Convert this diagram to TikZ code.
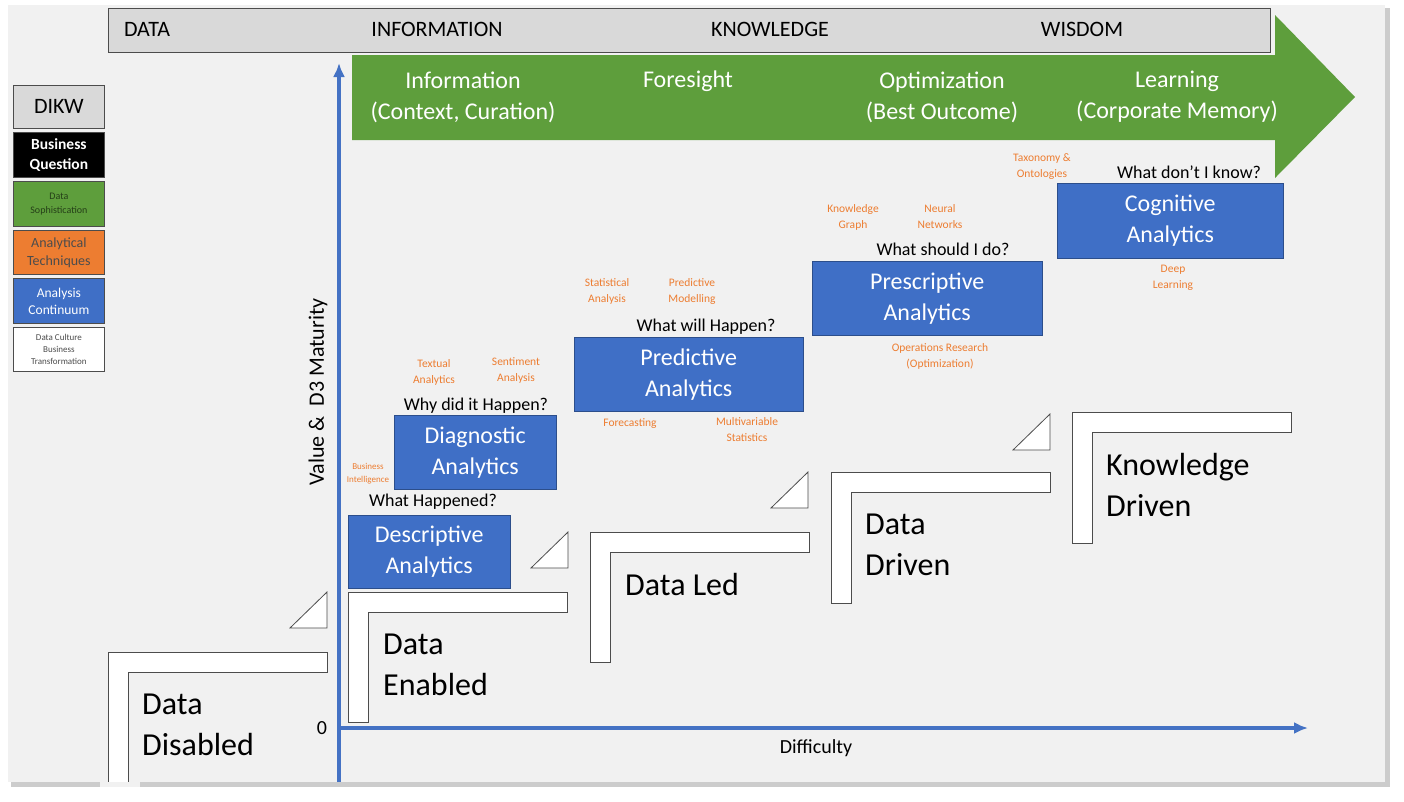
\documentclass[tikz,border=0pt]{standalone}
\usepackage{fontspec}
\setmainfont{Carlito}
\usetikzlibrary{arrows.meta}
\definecolor{bg}{HTML}{F1F1F1}
\definecolor{gbar}{HTML}{D9D9D9}
\definecolor{grn}{HTML}{5E9E3C}
\definecolor{blu}{HTML}{3F6FC6}
\definecolor{org}{HTML}{ED7D31}
\definecolor{ax}{HTML}{4472C4}
\tikzset{
 fs/.style 2 args={font=\fontsize{#1}{#2}\selectfont},
 bbox/.style={draw=blu!70!black,fill=blu,text=white,align=center,fs={24}{31},inner sep=0},
 orl/.style={text=org,align=center,fs={11.5}{16},inner sep=0},
 q/.style={fs={18}{18},inner sep=0},
 big/.style={fs={32}{41},align=left,inner sep=0,anchor=west},
 ell/.style={draw=black!70,fill=white,line width=0.8},
 leg/.style={draw=black!70,line width=0.8,align=center,inner sep=0},
}
\begin{document}
\begin{tikzpicture}[x=1pt,y=-1pt]
\useasboundingbox (0,0) rectangle (1404,801);
\fill[white] (0,0) rectangle (1404,801);
\fill[black!20] (11,8) rectangle (1390,787);
\fill[bg] (8,5) rectangle (1385,782);
% top bar
\node[draw=black!70,fill=gbar,minimum width=1162,minimum height=44,anchor=north west,inner sep=0] (topbar) at (108,8) {};
\foreach \t/\x in {DATA/147,INFORMATION/437,KNOWLEDGE/770,WISDOM/1082}
  \node[fs={22}{22}] at (\x,29) {\t};
% green arrow
\fill[grn] (352,55) -- (1275,55) -- (1275,15) -- (1355,97) -- (1275,178) -- (1275,140) -- (352,140) -- cycle;
\node[text=white,fs={24}{31},align=center] (g1) at (463,97) {Information\\(Context, Curation)};
\node[text=white,fs={24}{31}] (g2) at (688,81) {Foresight};
\node[text=white,fs={24}{31},align=center] (g3) at (942,97) {Optimization\\(Best Outcome)};
\node[text=white,fs={24}{31},align=center] (g4) at (1177,97) {Learning\\(Corporate Memory)};
% legend
\node[leg,fill=gbar,minimum width=91,minimum height=43,anchor=north west,fs={22}{22}] (l1) at (13,85) {DIKW};
\node[leg,fill=black,text=white,minimum width=91,minimum height=45,anchor=north west,fs={15.5}{20}] (l2) at (13,132) {\textbf{Business}\\\textbf{Question}};
\node[leg,fill=grn,text=black!60!grn,minimum width=91,minimum height=45,anchor=north west,fs={10}{14}] (l3) at (13,181) {Data\\Sophistication};
\node[leg,fill=org,text=black!70,minimum width=91,minimum height=44,anchor=north west,fs={14}{18}] (l4) at (13,230) {Analytical\\Techniques};
\node[leg,fill=blu,text=white,minimum width=91,minimum height=45,anchor=north west,fs={13.5}{17}] (l5) at (13,278) {Analysis\\Continuum};
\node[leg,fill=white,text=black!70,minimum width=91,minimum height=44,anchor=north west,fs={9}{12}] (l6) at (13,327) {Data Culture\\Business\\Transformation};
% L shapes
\foreach \x/\y/\b in {108/652/782,348/592/722,590/532/662,831/472/603,1072/412/543}
  \draw[ell] (\x,\y) -- ++(219,0) -- ++(0,20) -- ++(-199,0) -- (\x+20,\b) -- (\x,\b) -- cycle;
\fill[bg] (100,782) rectangle (140,801);
\fill[white] (100,787) rectangle (140,801);
% triangles
\foreach \x/\y in {327/628,568/568,808/508,1050/450}
  \draw[ell] (\x-37,\y) -- (\x,\y) -- (\x,\y-36) -- cycle;
% big labels
\node[big] (d0) at (142,725) {Data\\Disabled};
\node[big] (d1) at (383,665) {Data\\Enabled};
\node[big] (d2) at (625,584) {Data Led};
\node[big] (d3) at (865,545) {Data\\Driven};
\node[big] (d4) at (1106,485) {Knowledge\\Driven};
% axes
\draw[ax,line width=3.5,-{Latex[length=14,width=12]}] (339,782) -- (339,63);
\draw[ax,line width=3.5,-{Latex[length=14,width=12]}] (339,728) -- (1308,728);
\node[fs={20}{20}] (zero) at (322,728) {0};
\node[fs={22}{22},rotate=90] (yl) at (318,392) {Value \&\ \ D3 Maturity};
\node[fs={20}{20}] (xl) at (816,748) {Difficulty};
% blue boxes
\node[bbox,minimum width=162,minimum height=73,anchor=north west] (b1) at (348,515) {Descriptive\\Analytics};
\node[bbox,minimum width=162,minimum height=74,anchor=north west] (b2) at (394,415) {Diagnostic\\Analytics};
\node[bbox,minimum width=229,minimum height=74,anchor=north west] (b3) at (574,337) {Predictive\\Analytics};
\node[bbox,minimum width=230,minimum height=74,anchor=north west] (b4) at (812,261) {Prescriptive\\Analytics};
\node[bbox,minimum width=226,minimum height=75,anchor=north west] (b5) at (1057,183) {Cognitive\\Analytics};
% questions
\node[q] (q1) at (433,502) {What Happened?};
\node[q] (q2) at (476,406) {Why did it Happen?};
\node[q] (q3) at (706,327) {What will Happen?};
\node[q] (q4) at (943,249) {What should I do?};
\node[q] (q5) at (1189,172) {What don't I know?};
% orange labels
\node[orl,fs={9}{13}] (o1) at (368,474) {Business\\Intelligence};
\node[orl] (o2) at (434,372) {Textual\\Analytics};
\node[orl] (o3) at (516,370) {Sentiment\\Analysis};
\node[orl] (o4) at (607,291) {Statistical\\Analysis};
\node[orl] (o5) at (692,291) {Predictive\\Modelling};
\node[orl] (o6) at (630,424) {Forecasting};
\node[orl] (o7) at (747,430) {Multivariable\\Statistics};
\node[orl] (o8) at (853,217) {Knowledge\\Graph};
\node[orl] (o9) at (940,217) {Neural\\Networks};
\node[orl] (o10) at (940,356) {Operations Research\\(Optimization)};
\node[orl] (o11) at (1042,167) {Taxonomy \&\\Ontologies};
\node[orl] (o12) at (1173,278) {Deep\\Learning};
\end{tikzpicture}
\end{document}
